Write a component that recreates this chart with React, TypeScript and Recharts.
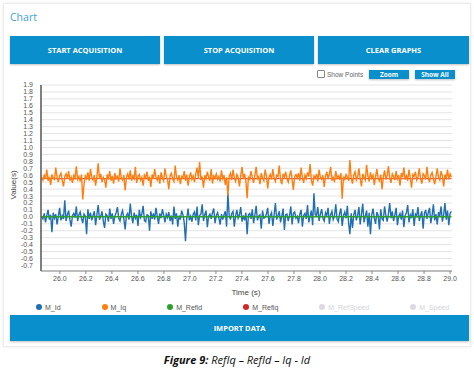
import { LineChart, Line, XAxis, YAxis, CartesianGrid, Legend } from 'recharts';

// M_Id samples (A) left to right
const idValues = [
  0.01, -0.03, 0.05, -0.08, 0.02, 0.10, -0.04, 0.03, -0.22, 0.06, -0.02, 0.04, -0.11, 0.01, 0.13, -0.05, 0.02, -0.03, 0.24, -0.06,
  0.03, 0.09, -0.04, -0.14, 0.02, 0.05, -0.01, 0.15, -0.06, 0.03, 0.07, -0.02, -0.09, 0.04, 0.01, -0.25, 0.11, -0.03, 0.06, -0.05,
  0.02, 0.08, -0.12, 0.03, 0.17, -0.04, 0.01, 0.08, -0.06, -0.16, 0.04, 0.02, -0.07, 0.12, -0.03, 0.05, -0.10, 0.01, 0.06, 0.14,
  -0.02, -0.06, 0.04, 0.09, -0.03, -0.18, 0.02, 0.05, -0.04, 0.19, 0.01, -0.09, 0.06, -0.02, 0.03, -0.13, 0.10, -0.01, 0.04, 0.16,
  -0.05, -0.07, 0.03, 0.02, -0.20, 0.08, -0.03, 0.05, -0.04, 0.13, 0.01, -0.10, 0.05, -0.02, 0.11, 0.03, -0.08, 0.04, -0.01, 0.07,
  -0.06, 0.02, -0.11, 0.15, -0.03, 0.05, -0.14, 0.02, -0.04, 0.09, 0.03, -0.08, -0.35, -0.02, 0.12, -0.05, 0.01, -0.07, 0.04, 0.07,
  -0.05, 0.15, -0.12, 0.02, 0.04, 0.18, -0.06, 0.03, 0.09, -0.15, 0.01, 0.04, -0.03, 0.06, 0.12, -0.09, 0.02, 0.06, -0.02, -0.11,
  0.04, -0.04, 0.03, 0.08, -0.14, 0.34, 0.02, -0.04, 0.05, 0.08, -0.14, 0.01, 0.10, -0.02, 0.03, 0.14, -0.07, 0.02, -0.05, 0.06,
  -0.25, 0.03, 0.05, -0.03, 0.11, -0.09, 0.02, 0.16, -0.05, 0.01, 0.03, -0.17, 0.09, -0.02, -0.01, 0.04, 0.13, -0.10, 0.02, 0.06,
  -0.13, 0.03, 0.20, -0.04, 0.02, 0.08, -0.08, 0.01, 0.12, -0.19, 0.03, 0.04, -0.06, 0.02, 0.15, -0.11, 0.05, 0.07, -0.02, 0.01,
  -0.09, 0.04, 0.10, -0.14, 0.02, 0.05, -0.03, 0.17, -0.08, 0.01, 0.09, -0.12, 0.34, 0.03, 0.02, 0.14, -0.06, 0.04, 0.11, -0.02,
  -0.06, 0.06, 0.02, 0.13, -0.10, 0.03, 0.08, -0.04, 0.01, 0.18, -0.03, -0.07, 0.05, 0.12, -0.13, 0.02, 0.07, -0.02, 0.16, -0.09,
  -0.25, 0.05, -0.16, 0.03, 0.10, -0.05, 0.02, 0.14, -0.11, 0.04, 0.19, -0.08, 0.01, 0.09, -0.14, 0.06, -0.25, 0.03, 0.12, -0.02,
  -0.10, 0.07, 0.02, -0.18, 0.11, -0.03, -0.05, 0.15, 0.02, -0.07, 0.04, 0.20, -0.02, 0.08, -0.06, 0.03, 0.13, -0.12, 0.01, 0.05,
  -0.04, 0.09, -0.15, 0.02, 0.06, 0.17, -0.08, 0.03, -0.02, 0.11, -0.13, 0.04, 0.01, 0.14, -0.06, 0.02, 0.08, -0.17, 0.05, 0.10,
  -0.03, 0.06, 0.13, -0.09, 0.02, 0.18, -0.05, 0.04, -0.11, 0.07, 0.01, 0.15, -0.07, 0.03, 0.20, -0.04, 0.09, -0.12, 0.05, 0.08,
];

// M_Iq samples (A)
const iqValues = [
  0.57, 0.53, 0.60, 0.55, 0.68, 0.52, 0.58, 0.46, 0.61, 0.56, 0.54, 0.71, 0.57, 0.50, 0.59, 0.63, 0.53, 0.44, 0.58, 0.62,
  0.55, 0.66, 0.52, 0.57, 0.49, 0.60, 0.56, 0.73, 0.54, 0.58, 0.51, 0.61, 0.25, 0.47, 0.59, 0.55, 0.64, 0.52, 0.69, 0.57,
  0.53, 0.60, 0.45, 0.58, 0.77, 0.55, 0.62, 0.50, 0.57, 0.54, 0.42, 0.61, 0.56, 0.66, 0.52, 0.59, 0.48, 0.63, 0.55, 0.58,
  0.51, 0.70, 0.56, 0.53, 0.60, 0.38, 0.57, 0.62, 0.54, 0.67, 0.52, 0.59, 0.55, 0.72, 0.49, 0.58, 0.61, 0.53, 0.57, 0.45,
  0.60, 0.56, 0.65, 0.52, 0.58, 0.43, 0.61, 0.55, 0.69, 0.57, 0.53, 0.60, 0.48, 0.64, 0.56, 0.52, 0.70, 0.58, 0.54, 0.40,
  0.59, 0.63, 0.55, 0.51, 0.74, 0.57, 0.53, 0.60, 0.47, 0.58, 0.56, 0.66, 0.52, 0.61, 0.45, 0.57, 0.64, 0.54, 0.59, 0.50,
  0.62, 0.71, 0.56, 0.79, 0.53, 0.58, 0.42, 0.60, 0.55, 0.65, 0.57, 0.52, 0.69, 0.48, 0.59, 0.56, 0.62, 0.54, 0.58, 0.51,
  0.67, 0.55, 0.60, 0.46, 0.57, 0.31, 0.58, 0.63, 0.53, 0.68, 0.56, 0.51, 0.61, 0.57, 0.44, 0.59, 0.72, 0.55, 0.62, 0.52,
  0.27, 0.58, 0.54, 0.66, 0.57, 0.49, 0.60, 0.72, 0.55, 0.58, 0.47, 0.63, 0.56, 0.52, 0.68, 0.59, 0.41, 0.57, 0.61, 0.54,
  0.69, 0.56, 0.51, 0.60, 0.58, 0.74, 0.53, 0.47, 0.62, 0.57, 0.65, 0.55, 0.50, 0.59, 0.67, 0.54, 0.39, 0.58, 0.61, 0.56,
  0.63, 0.52, 0.71, 0.57, 0.49, 0.60, 0.55, 0.64, 0.58, 0.76, 0.53, 0.45, 0.59, 0.56, 0.62, 0.51, 0.68, 0.57, 0.54, 0.60,
  0.43, 0.58, 0.65, 0.55, 0.61, 0.72, 0.52, 0.57, 0.50, 0.66, 0.56, 0.59, 0.55, 0.63, 0.26, 0.58, 0.54, 0.61, 0.57, 0.52,
  0.82, 0.56, 0.48, 0.60, 0.65, 0.53, 0.58, 0.70, 0.55, 0.44, 0.62, 0.57, 0.53, 0.75, 0.59, 0.51, 0.64, 0.56, 0.60, 0.46,
  0.58, 0.69, 0.55, 0.52, 0.61, 0.40, 0.57, 0.67, 0.54, 0.59, 0.73, 0.56, 0.49, 0.62, 0.58, 0.53, 0.66, 0.55, 0.60, 0.45,
  0.63, 0.57, 0.71, 0.54, 0.59, 0.52, 0.68, 0.56, 0.42, 0.61, 0.58, 0.65, 0.53, 0.57, 0.70, 0.55, 0.48, 0.62, 0.59, 0.54,
  0.72, 0.56, 0.50, 0.60, 0.64, 0.55, 0.47, 0.58, 0.70, 0.57, 0.53, 0.66, 0.59, 0.44, 0.61, 0.56, 0.68, 0.54, 0.62, 0.57,
];

// setpoints
const refIdLevel = 0;
const refIqLevel = 0.55;

// acquisition clock
const startTime = 25.86;
const samplePeriod = 0.009875;

const timeTicks = [26.0, 26.2, 26.4, 26.6, 26.8, 27.0, 27.2, 27.4, 27.6, 27.8, 28.0, 28.2, 28.4, 28.6, 28.8, 29.0];
const valueTicks = [
  -0.7, -0.6, -0.5, -0.4, -0.3, -0.2, -0.1, 0, 0.1, 0.2, 0.3, 0.4, 0.5, 0.6,
  0.7, 0.8, 0.9, 1.0, 1.1, 1.2, 1.3, 1.4, 1.5, 1.6, 1.7, 1.8, 1.9,
];

const seriesNames = ['M_Id', 'M_Iq', 'M_Refid', 'M_Refiq', 'M_RefSpeed', 'M_Speed'];
const seriesVisible = [true, true, true, true, false, false];

const COLORS: Record<string, string> = {
  M_Id: '#1f6fb2',
  M_Iq: '#ff7f0e',
  M_Refid: '#2ca02c',
  M_Refiq: '#d62728',
  M_RefSpeed: '#ddd8e4',
  M_Speed: '#ddd8e4',
};

const BLUE = '#0a8fcd';
const TICK = { fill: '#555', fontSize: 7, fontFamily: 'Liberation Sans, Arial, sans-serif' };

const rows = idValues.map((v, i) => ({
  t: startTime + i * samplePeriod,
  id: v,
  iq: iqValues[i],
  refid: refIdLevel,
  refiq: refIqLevel,
}));

const btn = (left: number, top: number, width: number, height: number, text: string, size = 7.5) => (
  <div
    style={{
      position: 'absolute', left, top, width, height, background: BLUE, color: '#fff',
      fontFamily: 'Open Sans, sans-serif', fontWeight: 700, fontSize: size,
      display: 'flex', alignItems: 'center', justifyContent: 'center',
      boxShadow: '0 1px 2px rgba(0,0,0,0.25)',
    }}
  >
    {text}
  </div>
);

function renderLegend() {
  return (
    <div style={{ display: 'flex', gap: 41, paddingLeft: 28, height: 14, alignItems: 'center',
      fontFamily: 'Liberation Sans, Arial, sans-serif', fontSize: 7 }}>
      {seriesNames.map((n, i) => (
        <div key={n} style={{ display: 'flex', alignItems: 'center', color: seriesVisible[i] ? '#555' : '#d4d4d8' }}>
          <span style={{ width: 6, height: 6, borderRadius: 3, background: COLORS[n], marginRight: 3 }} />
          {n}
        </div>
      ))}
    </div>
  );
}

export default function App() {
  return (
    <div style={{ position: 'relative', width: 474, height: 381, background: '#fff', overflow: 'hidden' }}>
      <style>{'body{margin:0}'}</style>
      <div style={{ position: 'absolute', left: 3, top: 3, width: 466, height: 342, border: '1px solid #ececec',
        boxShadow: '0 0 3px rgba(0,0,0,0.08)' }} />
      <div style={{ position: 'absolute', left: 10, top: 10, fontFamily: 'Open Sans, sans-serif', fontSize: 10.5, color: '#3b9fd9' }}>
        Chart
      </div>
      {btn(10, 36, 150, 28, 'START ACQUISITION')}
      {btn(164, 36, 150, 28, 'STOP ACQUISITION')}
      {btn(318, 36, 151, 28, 'CLEAR GRAPHS')}

      <div style={{ position: 'absolute', left: 317, top: 70, display: 'flex', alignItems: 'center',
        fontFamily: 'Liberation Sans, Arial, sans-serif', fontSize: 6.5, color: '#666' }}>
        <span style={{ width: 6, height: 6, border: '1px solid #888', borderRadius: 1, marginRight: 2 }} />
        Show Points
      </div>
      {btn(369, 70, 40, 9, 'Zoom', 6.5)}
      {btn(415, 70, 40, 9, 'Show All', 6.5)}

      <div style={{ position: 'absolute', left: 0, top: 68 }}>
        <LineChart width={474} height={250} data={rows} margin={{ top: 17, right: 22, left: 8, bottom: 4 }}>
          <CartesianGrid vertical={false} stroke="#e4e4e4" />
          <XAxis
            dataKey="t" type="number" domain={[25.855, 29.015]} ticks={timeTicks} interval={0}
            tickFormatter={(v: number) => v.toFixed(1)} tick={TICK} tickSize={3}
            axisLine={{ stroke: '#888' }} tickLine={{ stroke: '#888' }} height={29}
          />
          <YAxis
            type="number" domain={[-0.78, 1.9]} ticks={valueTicks} interval={0} width={33}
            tickFormatter={(v: number) => v.toFixed(1)} tick={TICK} tickLine={false} tickMargin={2}
            axisLine={{ stroke: '#555', strokeWidth: 1.5 }}
          />
          <Legend verticalAlign="bottom" height={14} content={renderLegend} />
          <Line dataKey="refiq" name="M_Refiq" stroke={COLORS.M_Refiq} dot={false} strokeWidth={1} isAnimationActive={false} />
          <Line dataKey="id" name="M_Id" stroke={COLORS.M_Id} dot={false} strokeWidth={1.4} isAnimationActive={false} />
          <Line dataKey="iq" name="M_Iq" stroke={COLORS.M_Iq} dot={false} strokeWidth={1.4} isAnimationActive={false} />
          <Line dataKey="refid" name="M_Refid" stroke={COLORS.M_Refid} dot={false} strokeWidth={1.5} isAnimationActive={false} />
        </LineChart>
      </div>

      <div style={{ position: 'absolute', left: 13, top: 185, transform: 'translate(-50%,-50%) rotate(-90deg)',
        fontFamily: 'Liberation Sans, Arial, sans-serif', fontSize: 8, color: '#444', whiteSpace: 'nowrap' }}>
        Value(s)
      </div>
      <div style={{ position: 'absolute', left: 246, top: 288, transform: 'translateX(-50%)',
        fontFamily: 'Liberation Sans, Arial, sans-serif', fontSize: 8, color: '#444' }}>
        Time (s)
      </div>

      {btn(10, 315, 459, 26, 'IMPORT DATA')}

      <div style={{ position: 'absolute', left: 0, width: 474, top: 352, textAlign: 'center',
        fontFamily: 'Open Sans, sans-serif', fontStyle: 'italic', fontSize: 11, color: '#111' }}>
        <b>Figure 9:</b> RefIq – RefId – Iq - Id
      </div>
    </div>
  );
}
